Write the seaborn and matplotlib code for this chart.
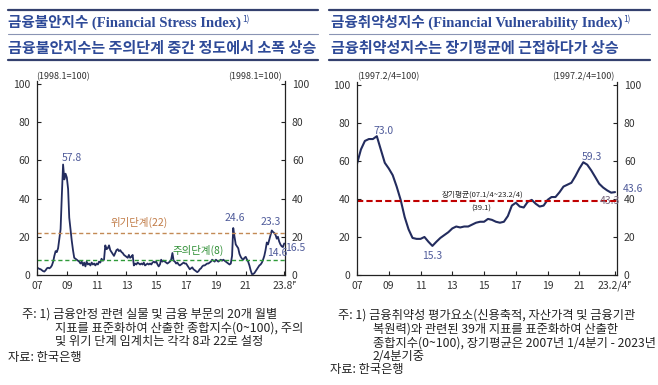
import numpy as np
import pandas as pd
import matplotlib
matplotlib.use("Agg")
import matplotlib.pyplot as plt
import seaborn as sns
from matplotlib.lines import Line2D

# =====================================================
# DATA
# =====================================================

# Financial Stress Index, monthly 2007.01 ~ 2023.08
fsi_values = [
    4.0, 3.5, 3.2, 3.0, 2.5, 2.0, 1.8, 2.5, 3.5, 3.8, 3.5, 4.0,          # 2007
    5.0, 7.0, 10.0, 12.5, 12.0, 14.0, 19.0, 24.0, 42.0, 57.8, 50.0, 53.0,  # 2008
    51.0, 45.0, 30.0, 24.0, 18.0, 13.0, 9.0, 8.5, 8.0, 7.5, 7.0, 6.0,     # 2009
    7.0, 5.0, 6.5, 4.5, 7.0, 5.5, 6.0, 5.0, 6.5, 5.5, 6.0, 5.0,           # 2010
    6.0, 5.5, 7.0, 6.5, 8.5, 7.5, 8.0, 15.5, 13.5, 14.0, 15.5, 13.0,      # 2011
    12.0, 11.0, 10.0, 11.5, 13.0, 13.5, 12.5, 13.0, 12.0, 11.5, 10.5, 10.0,  # 2012
    9.5, 9.0, 10.5, 9.0, 9.5, 10.5, 5.0, 6.0, 5.5, 6.5, 6.0, 5.5,         # 2013
    6.0, 5.5, 6.5, 5.0, 5.5, 6.0, 5.5, 6.0, 5.5, 6.5, 7.0, 6.5,           # 2014
    7.0, 5.5, 4.5, 5.5, 8.0, 7.0, 7.5, 7.0, 6.5, 6.0, 6.5, 7.0,           # 2015
    8.0, 11.5, 7.5, 7.0, 6.0, 6.5, 5.5, 5.0, 5.5, 6.0, 6.5, 6.0,          # 2016
    6.0, 5.0, 4.0, 3.0, 3.5, 4.0, 3.0, 2.5, 2.0, 1.5, 2.0, 3.0,           # 2017
    3.5, 4.5, 5.0, 5.0, 5.5, 6.0, 6.0, 6.5, 7.0, 8.0, 7.5, 7.0,           # 2018
    8.0, 7.5, 7.0, 7.5, 8.0, 7.5, 8.0, 7.5, 7.0, 6.5, 6.0, 5.5,           # 2019
    6.0, 10.0, 24.6, 20.0, 16.0, 15.0, 14.0, 11.0, 9.5, 8.5, 8.0, 9.0,    # 2020
    9.5, 8.0, 7.0, 5.0, 2.5, 0.5, 0.5, 1.0, 2.0, 3.0, 4.0, 5.0,           # 2021
    5.5, 6.5, 8.0, 10.0, 13.0, 17.0, 16.0, 18.5, 21.0, 23.3, 22.5, 22.0,  # 2022
    21.0, 19.0, 20.0, 17.5, 16.0, 15.0, 14.6, 16.5,                       # 2023
]

# Financial Vulnerability Index, quarterly 2007 Q1 ~ 2023 Q2
fvi_values = [
    58.5, 66.0, 70.5, 71.5,   # 2007
    71.5, 73.0, 66.0, 59.0,   # 2008
    56.0, 52.5, 46.5, 39.5,   # 2009
    30.5, 24.0, 19.5, 19.0,   # 2010
    19.0, 20.0, 17.5, 15.3,   # 2011
    17.5, 19.5, 21.0, 22.5,   # 2012
    24.5, 25.5, 25.0, 25.5,   # 2013
    25.5, 26.5, 27.5, 28.0,   # 2014
    28.0, 29.5, 29.0, 28.0,   # 2015
    27.5, 28.0, 31.0, 36.5,   # 2016
    38.0, 36.0, 35.5, 38.5,   # 2017
    39.5, 37.5, 36.0, 36.5,   # 2018
    39.5, 41.0, 41.0, 43.5,   # 2019
    46.5, 47.5, 48.5, 52.0,   # 2020
    56.0, 59.3, 58.0, 55.0,   # 2021
    51.5, 48.0, 46.0, 44.5,   # 2022
    43.3, 43.6,               # 2023
]

fsi_dates = pd.date_range("2007-01-01", periods=len(fsi_values), freq="MS")
fvi_dates = pd.date_range("2007-01-01", periods=len(fvi_values), freq="QS")

tick_years = [2007, 2009, 2011, 2013, 2015, 2017, 2019, 2021]
fsi_last_label = "23.8ᴾ"
fvi_last_label = "23.2/4ᴾ"
y_ticks = [0, 20, 40, 60, 80, 100]

fsi_crisis = 22
fsi_caution = 8
fvi_longrun = 39.1

fsi_unit = "(1998.1=100)"
fvi_unit = "(1997.2/4=100)"

# =====================================================
# STYLE
# =====================================================

sns.set_theme(style="white")
plt.rcParams["font.family"] = ["Noto Sans CJK KR", "DejaVu Sans"]

LINE = "#232c5e"
ANNO = "#4f5b9a"
TXT = "#333333"
TITLE = "#2e4a98"
W, H = 658, 385

fig = plt.figure(figsize=(W / 100, H / 100), dpi=100)


def px_axes(left, top, right, bottom):
    return fig.add_axes([left / W, 1 - bottom / H, (right - left) / W, (bottom - top) / H])


def style_axes(ax, last_date, last_label):
    ax.set_ylim(0, 101.5)
    ax.set_yticks(y_ticks)
    ticks = [pd.Timestamp(f"{y}-01-01") for y in tick_years] + [last_date]
    ax.set_xticks(ticks)
    ax.set_xticklabels([f"{y % 100:02d}" for y in tick_years] + [last_label])
    ax.tick_params(axis="both", direction="in", length=3, width=0.8,
                   labelsize=7.5, labelcolor=TXT, color="#222222")
    ax.tick_params(axis="y", left=True, right=True, labelleft=True,
                   labelright=True, pad=5)
    ax.tick_params(axis="x", bottom=True, pad=4)
    for side in ["left", "right", "bottom"]:
        ax.spines[side].set_visible(True)
        ax.spines[side].set_color("#222222")
        ax.spines[side].set_linewidth(0.9)
    ax.spines["top"].set_visible(False)
    ax.set_xlabel("")
    ax.set_ylabel("")
    ax.grid(False)


def label_point(ax, dates, values, idx, dx, dy, color=ANNO):
    ax.annotate(f"{values[idx]:.1f}", xy=(dates[idx], values[idx]),
                xytext=(dx, dy), textcoords="offset points",
                ha="center", va="center", fontsize=7.5, color=color)


# ------------------------------
# Left: Financial Stress Index
# ------------------------------
ax1 = px_axes(37, 81, 285, 275)
sns.lineplot(x=fsi_dates, y=fsi_values, ax=ax1, color=LINE, linewidth=1.3)
ax1.set_xlim(fsi_dates[0], fsi_dates[-1] + pd.Timedelta(days=20))
ax1.axhline(fsi_crisis, color="#c38a55", linestyle=(0, (3, 2)), linewidth=1.0)
ax1.axhline(fsi_caution, color="#2f9a3a", linestyle=(0, (3, 2)), linewidth=1.0)
style_axes(ax1, fsi_dates[-1], fsi_last_label)

ax1.text(pd.Timestamp("2013-11-01"), fsi_crisis + 5.5, f"위기단계({fsi_crisis})",
         ha="center", va="center", fontsize=7.5, color="#c07a45")
ax1.text(pd.Timestamp("2017-11-01"), fsi_caution + 5, f"주의단계({fsi_caution})",
         ha="center", va="center", fontsize=7.5, color="#2f8f35")

fsi_peak = int(np.argmax(fsi_values))
fsi_covid = fsi_values.index(24.6)
fsi_recent = fsi_values.index(23.3)
label_point(ax1, fsi_dates, fsi_values, fsi_peak, 6, 5)
label_point(ax1, fsi_dates, fsi_values, fsi_covid, 1, 7)
label_point(ax1, fsi_dates, fsi_values, fsi_recent, -1, 6)
label_point(ax1, fsi_dates, fsi_values, len(fsi_values) - 2, -4, -4)
label_point(ax1, fsi_dates, fsi_values, len(fsi_values) - 1, 8, -3.5)

# ------------------------------
# Right: Financial Vulnerability Index
# ------------------------------
ax2 = px_axes(357, 82, 617, 275)
sns.lineplot(x=fvi_dates, y=fvi_values, ax=ax2, color=LINE, linewidth=1.5)
ax2.set_xlim(fvi_dates[0], fvi_dates[-1] + pd.Timedelta(days=45))
ax2.axhline(fvi_longrun, color="#c00000", linestyle=(0, (3, 1.5)), linewidth=1.5)
style_axes(ax2, fvi_dates[-1], fvi_last_label)

ax2.text(pd.Timestamp("2014-12-01"), fvi_longrun + 3, "장기평균(07.1/4~23.2/4)",
         ha="center", va="center", fontsize=5.5, color="#222222")
ax2.text(pd.Timestamp("2014-11-01"), fvi_longrun - 4, f"({fvi_longrun})",
         ha="center", va="center", fontsize=5.5, color="#222222")

fvi_peak = int(np.argmax(fvi_values))
fvi_low = int(np.argmin(fvi_values))
fvi_recent = fvi_values.index(59.3)
label_point(ax2, fvi_dates, fvi_values, fvi_peak, 5, 4)
label_point(ax2, fvi_dates, fvi_values, fvi_low, 0, -7)
label_point(ax2, fvi_dates, fvi_values, fvi_recent, 6, 4)
label_point(ax2, fvi_dates, fvi_values, len(fvi_values) - 2, -1, -6, color="#7a6a80")
label_point(ax2, fvi_dates, fvi_values, len(fvi_values) - 1, 13, 2)

# ------------------------------
# Unit labels
# ------------------------------
fig.text(63 / W, 1 - 77 / H, fsi_unit, ha="center", va="center", fontsize=6.5, color=TXT)
fig.text(255 / W, 1 - 77 / H, fsi_unit, ha="center", va="center", fontsize=6.5, color=TXT)
fig.text(388 / W, 1 - 77 / H, fvi_unit, ha="center", va="center", fontsize=6.5, color=TXT)
fig.text(583 / W, 1 - 77 / H, fvi_unit, ha="center", va="center", fontsize=6.5, color=TXT)

# ------------------------------
# Title boxes
# ------------------------------
for x0, x1 in [(8, 318), (329, 650)]:
    fig.add_artist(Line2D([x0 / W, x1 / W], [1 - 10 / H] * 2, color="#34406e", linewidth=1.6))
    fig.add_artist(Line2D([x0 / W, x1 / W], [1 - 34 / H] * 2, color="#8a94b4", linewidth=0.8))
    fig.add_artist(Line2D([x0 / W, x1 / W], [1 - 60 / H] * 2, color="#34406e", linewidth=1.6))

title_font = ["Liberation Serif", "Noto Sans CJK KR"]
t1 = fig.text(8 / W, 1 - 22 / H, "금융불안지수 (Financial Stress Index)", ha="left", va="center",
              fontsize=10.5, color=TITLE, weight="bold", family=title_font)
t2 = fig.text(331 / W, 1 - 22 / H, "금융취약성지수 (Financial Vulnerability Index)", ha="left",
              va="center", fontsize=10.5, color=TITLE, weight="bold", family=title_font)
fig.text(8 / W, 1 - 48 / H, "금융불안지수는 주의단계 중간 정도에서 소폭 상승", ha="left",
         va="center", fontsize=10.9, color=TITLE, weight="bold")
fig.text(331 / W, 1 - 48 / H, "금융취약성지수는 장기평균에 근접하다가 상승", ha="left",
         va="center", fontsize=10.9, color=TITLE, weight="bold")

fig.canvas.draw()
renderer = fig.canvas.get_renderer()
for t in [t1, t2]:
    bb = t.get_window_extent(renderer)
    fig.text((bb.x1 + 1) / W, (bb.y1 - 1) / H, "1)", ha="left", va="top",
             fontsize=6, color=TITLE)

# ------------------------------
# Footnotes
# ------------------------------
note_kw = dict(ha="left", va="center", fontsize=8.8, color="#222222")
fig.text(22 / W, 1 - 314 / H, "주: 1) 금융안정 관련 실물 및 금융 부문의 20개 월별", **note_kw)
fig.text(55 / W, 1 - 328 / H, "지표를 표준화하여 산출한 종합지수(0~100), 주의", **note_kw)
fig.text(55 / W, 1 - 342 / H, "및 위기 단계 임계치는 각각 8과 22로 설정", **note_kw)
fig.text(8 / W, 1 - 358 / H, "자료: 한국은행", **note_kw)

fig.text(338 / W, 1 - 315 / H, "주: 1) 금융취약성 평가요소(신용축적, 자산가격 및 금융기관", **note_kw)
fig.text(373 / W, 1 - 329 / H, "복원력)와 관련된 39개 지표를 표준화하여 산출한", **note_kw)
fig.text(373 / W, 1 - 343 / H, "종합지수(0~100), 장기평균은 2007년 1/4분기 - 2023년", **note_kw)
fig.text(373 / W, 1 - 356 / H, "2/4분기중", **note_kw)
fig.text(330 / W, 1 - 370 / H, "자료: 한국은행", **note_kw)

fig.savefig("out.png", dpi=100)
